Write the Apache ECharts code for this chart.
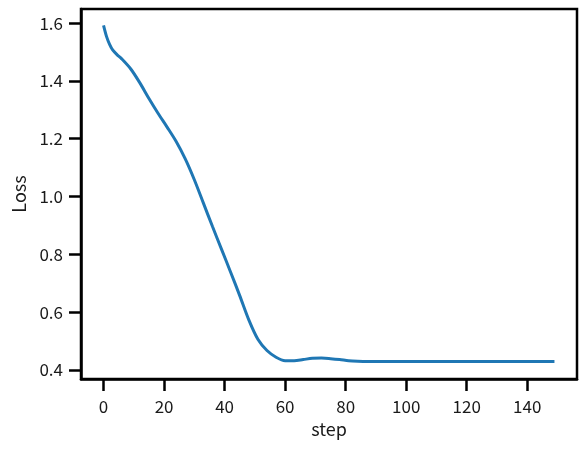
<!DOCTYPE html>
<html>
<head>
<meta charset="utf-8">
<script src="https://cdn.jsdelivr.net/npm/echarts@6/dist/echarts.min.js"></script>
<style>html,body{margin:0;padding:0;background:#fff}#c{width:587px;height:450px}</style>
</head>
<body>
<div id="c"></div>
<script>
const steps = [0, 1, 2, 3, 4.5, 6, 9, 12, 15, 18, 21, 24, 27, 30, 33, 36, 39, 42, 45, 48, 51, 54, 57, 60, 63, 66, 69, 72, 75, 78, 81, 84, 87, 90, 100, 110, 120, 130, 140, 149];
const loss = [1.592, 1.553, 1.526, 1.507, 1.490, 1.476, 1.441, 1.393, 1.339, 1.288, 1.240, 1.190, 1.130, 1.058, 0.977, 0.896, 0.817, 0.738, 0.657, 0.573, 0.506, 0.467, 0.444, 0.432, 0.432, 0.436, 0.440, 0.441, 0.439, 0.436, 0.432, 0.430, 0.429, 0.429, 0.429, 0.429, 0.429, 0.429, 0.429, 0.429];
const xTicks = [0, 20, 40, 60, 80, 100, 120, 140];
const yTicks = [0.4, 0.6, 0.8, 1.0, 1.2, 1.4, 1.6];

const font = '"Noto Sans CJK JP", "Noto Sans", sans-serif';
const txt = '#1a1a1a';
const chart = echarts.init(document.getElementById('c'), null, {renderer: 'canvas'});
chart.setOption({
  animation: false,
  grid: {left: 81, right: 10, top: 9, bottom: 71, show: true, borderColor: '#000', borderWidth: 2.5, containLabel: false},
  xAxis: {
    type: 'value', min: -7.45, max: 156.45,
    name: 'step', nameLocation: 'middle', nameGap: 38,
    nameTextStyle: {fontFamily: font, fontSize: 18, color: txt},
    axisLine: {show: true, onZero: false, lineStyle: {color: '#000', width: 2.5}},
    axisTick: {show: true, customValues: xTicks, length: 12, lineStyle: {color: '#000', width: 2.5}},
    axisLabel: {customValues: xTicks, margin: 19, fontFamily: font, fontSize: 17, color: txt},
    splitLine: {show: false}
  },
  yAxis: {
    type: 'value', min: 0.3686, max: 1.6486,
    name: 'Loss', nameLocation: 'middle', nameGap: 50,
    nameTextStyle: {fontFamily: font, fontSize: 18, color: txt},
    axisLine: {show: true, onZero: false, lineStyle: {color: '#000', width: 2.5}},
    axisTick: {show: true, customValues: yTicks, length: 12, lineStyle: {color: '#000', width: 2.5}},
    axisLabel: {customValues: yTicks, margin: 18, fontFamily: font, fontSize: 17, color: txt,
      formatter: v => v.toFixed(1)},
    splitLine: {show: false}
  },
  series: [{
    type: 'line',
    data: steps.map((s, i) => [s, loss[i]]),
    smooth: 0.3,
    showSymbol: false,
    lineStyle: {color: '#1f77b4', width: 3}
  }]
});
</script>
</body>
</html>
